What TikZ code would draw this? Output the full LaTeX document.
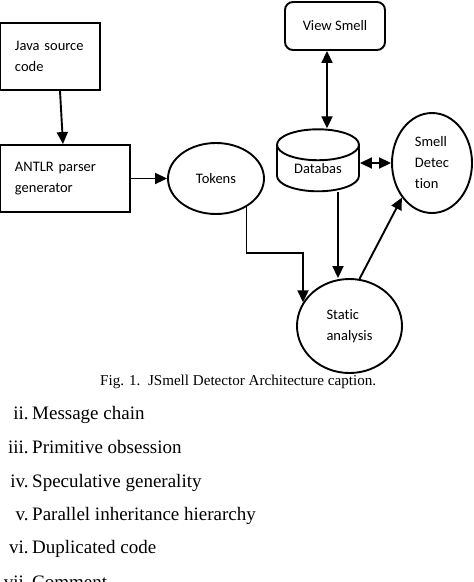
\documentclass[tikz,border=0pt]{standalone}
\usepackage{fontspec}
\setmainfont{Liberation Serif}
\newfontfamily\calibfont[Ligatures=NoCommon]{Carlito}
\usetikzlibrary{arrows.meta,shapes.geometric}
\tikzset{
    block/.style = {draw, rectangle, line width=1.9pt,
        font=\calibfont\fontsize{14.5}{21}\selectfont,
        inner xsep=15pt, minimum height=67pt, align=left},
    rblock/.style = {block, rounded corners=8pt, minimum width=100pt, minimum height=48pt, align=center},
    ell/.style = {draw, ellipse, line width=1.9pt, inner sep=0pt,
        font=\calibfont\fontsize{14.5}{21}\selectfont, align=left},
    dbase/.style = {draw, cylinder, shape border rotate=90, aspect=0.65, line width=1.9pt,
        inner sep=0pt, minimum width=82pt, minimum height=62pt,
        font=\calibfont\fontsize{14.5}{21}\selectfont},
    arrow/.style = {draw, line width=1.9pt, -{Triangle[length=12pt,width=11pt]}},
    darrow/.style = {draw, line width=1.9pt, {Triangle[length=12pt,width=11pt]}-{Triangle[length=12pt,width=11pt]}},
    item/.style = {anchor=base west, inner sep=0pt, font=\fontsize{19}{23}\selectfont}
}
\begin{document}
\begin{tikzpicture}[x=1pt, y=-1pt]
    \useasboundingbox (0,0) rectangle (474,582);
        \node [block, text width=70pt] (java) at (50,56.5) {Java source\\code};
        \node [block, text width=100pt] (antlr) at (65,178.5) {ANTLR parser\\generator};
        \draw [arrow] ([xshift=10pt]java.south) -- ([xshift=-2pt]antlr.north);
        \node [ell, right of=antlr, node distance=151pt, minimum width=96pt, minimum height=71pt] (tok) {Tokens};
        \draw [arrow] (antlr.east) -- (tok.west);
        \node [rblock] (view) at (335,26) {View Smell};
        \node [dbase] (db) at (318,168.5) {Databas};
        \draw [darrow] ([xshift=-8pt]view.south) -- ([xshift=-8pt]view.south |- db.north);
        \node [ell, minimum width=80pt, minimum height=100pt] (smell) at (432,163) {Smell\\Detec\\tion};
        \draw [darrow] (db.east |- smell.west) -- (smell.west);
        \node [ell, minimum width=105pt, minimum height=94pt] (static) at (349.5,326) {Static\\analysis};
        \draw [arrow] (tok.-43) -- ++(0,46) -| (static.153);
        \draw [arrow] ([xshift=20pt]db.south) -- ([xshift=20pt]db.south |- static.north);
        \draw [arrow] (static.78) -- (smell.229);
        % caption and list below the figure
        \node [anchor=base west, inner sep=0pt, font=\fontsize{15.1}{18}\selectfont] (cap) at (100,385) {Fig. 1.\ \ JSmell Detector Architecture caption.};
        \node [item] (chain) at (32,419) {\llap{ii.\hspace{3.5pt}}Message chain};
        \node [item] (prim) at (32,453) {\llap{iii.\hspace{3.5pt}}Primitive obsession};
        \node [item] (spec) at (32,487) {\llap{iv.\hspace{3.5pt}}Speculative generality};
        \node [item] (para) at (32,520) {\llap{v.\hspace{3.5pt}}Parallel inheritance hierarchy};
        \node [item] (dupl) at (32,553) {\llap{vi.\hspace{3.5pt}}Duplicated code};
        \node [item] (comm) at (32,588) {\llap{vii.\hspace{3.5pt}}Comment};
\end{tikzpicture}
\end{document}
